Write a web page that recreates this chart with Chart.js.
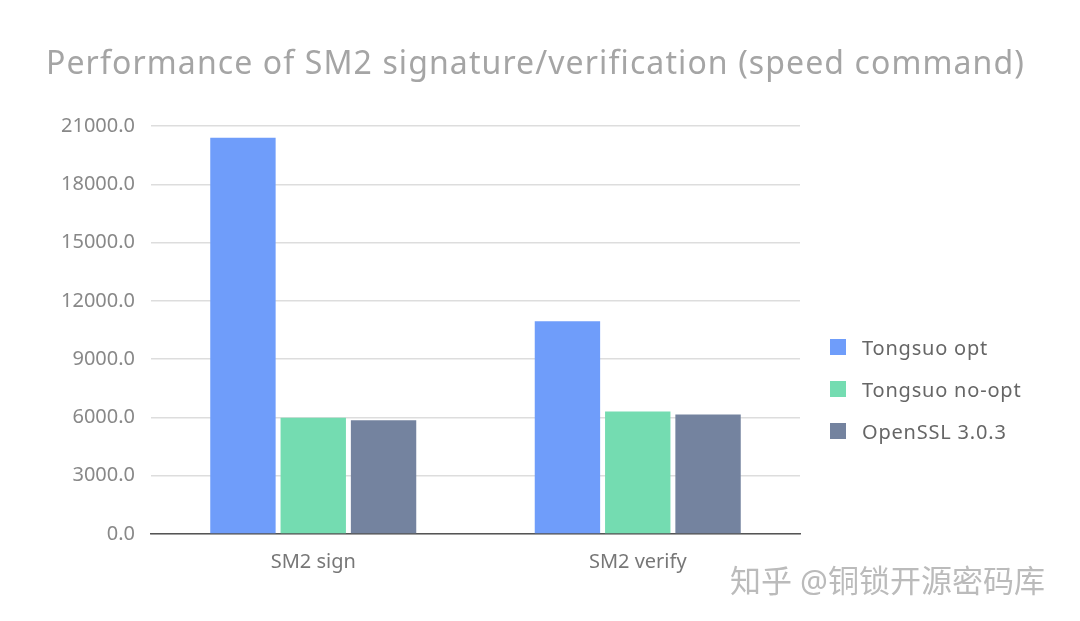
<!DOCTYPE html>
<html><head><meta charset="utf-8">
<script src="https://cdn.jsdelivr.net/npm/chart.js@4"></script>
<style>
body{margin:0;width:1080px;height:621px;background:#fff;font-family:"Noto Sans","Noto Sans CJK SC",sans-serif;position:relative;overflow:hidden}
#wrap{position:absolute;left:0;top:0;width:1080px;height:621px}
#title{position:absolute;left:46px;top:40px;font-size:32px;letter-spacing:1.1px;color:#a5a5a5;white-space:nowrap}
#legend{position:absolute;left:830px;top:326px;font-size:20px;letter-spacing:0.8px;color:#666}
#legend div{height:42px;display:flex;align-items:center}
#legend span.b{display:inline-block;width:16px;height:16px;margin-right:16px}
#wm{position:absolute;left:730px;top:556px;font-size:31px;color:#bbb}
</style></head><body>
<div id="wrap"><canvas id="c"></canvas></div>
<div id="title">Performance of SM2 signature/verification (speed command)</div>
<div id="legend"></div>
<div id="wm">知乎 @铜锁开源密码库</div>
<script>
const categories=["SM2 sign","SM2 verify"];
const seriesNames=["Tongsuo opt","Tongsuo no-opt","OpenSSL 3.0.3"];
const tongsuoOpt=[20400,10950];
const tongsuoNoOpt=[5980,6300];
const openssl=[5850,6150];
const colors=["#6f9dfa","#74dcb1","#74839f"];
const vals=[tongsuoOpt,tongsuoNoOpt,openssl];
const lg=document.getElementById('legend');
seriesNames.forEach((n,i)=>{lg.innerHTML+=`<div><span class="b" style="background:${colors[i]}"></span>${n}</div>`});
new Chart(document.getElementById('c'),{type:'bar',
data:{labels:categories,datasets:seriesNames.map((n,i)=>({label:n,data:vals[i],backgroundColor:colors[i]}))},
options:{responsive:true,maintainAspectRatio:false,animation:false,
layout:{padding:{top:126,right:280,bottom:39,left:45}},
plugins:{legend:{display:false},tooltip:{enabled:false}},
datasets:{bar:{categoryPercentage:0.65,barPercentage:0.93}},
scales:{
x:{grid:{display:false},border:{color:'#555',width:1.5},ticks:{color:'#777',font:{size:20,family:'Noto Sans'},padding:8}},
y:{min:0,max:21000,ticks:{stepSize:3000,color:'#888',font:{size:20,family:'Noto Sans'},padding:16,callback:v=>v.toFixed(1)},
grid:{color:'#ddd',lineWidth:1.5,drawTicks:false},border:{display:false}}}}});
</script></body></html>
